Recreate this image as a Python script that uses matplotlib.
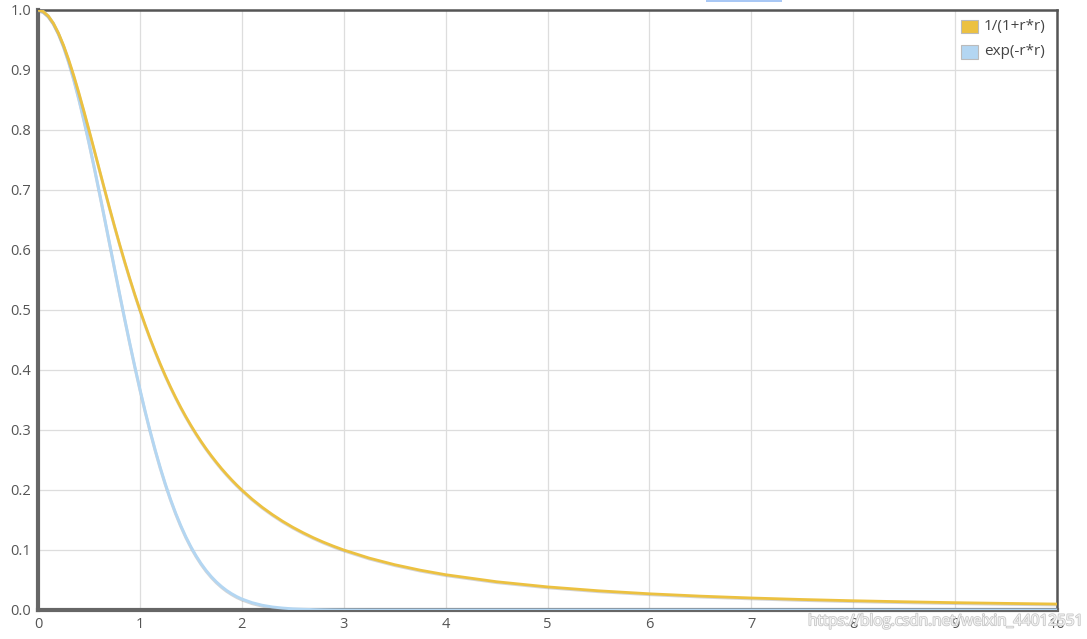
import numpy as np
import matplotlib.pyplot as plt
from matplotlib.patches import Rectangle
import matplotlib.patheffects as pe

plt.rcParams['font.family'] = ['Open Sans', 'DejaVu Sans']

# values
r = [0, 0.05, 0.1, 0.15, 0.2, 0.25, 0.3, 0.35, 0.4, 0.45, 0.5, 0.55, 0.6, 0.65,
     0.7, 0.75, 0.8, 0.85, 0.9, 0.95, 1.0, 1.05, 1.1, 1.15, 1.2, 1.25, 1.3, 1.35,
     1.4, 1.45, 1.5, 1.55, 1.6, 1.65, 1.7, 1.75, 1.8, 1.85, 1.9, 1.95, 2.0,
     2.1, 2.2, 2.3, 2.4, 2.5, 2.6, 2.7, 2.8, 2.9, 3.0, 3.25, 3.5, 3.75, 4.0,
     4.5, 5.0, 5.5, 6.0, 6.5, 7.0, 7.5, 8.0, 8.5, 9.0, 9.5, 10.0]
y_inv = [1.0, 0.9975, 0.9901, 0.978, 0.9615, 0.9412, 0.9174, 0.8909, 0.8621, 0.8316,
         0.80, 0.7678, 0.7353, 0.703, 0.6711, 0.64, 0.6098, 0.5806, 0.5525, 0.5256,
         0.50, 0.4756, 0.4525, 0.4306, 0.4098, 0.3902, 0.3717, 0.3543, 0.3378, 0.3223,
         0.3077, 0.2939, 0.2809, 0.2686, 0.2571, 0.2462, 0.2358, 0.2261, 0.2169, 0.2082,
         0.20, 0.1848, 0.1712, 0.159, 0.1479, 0.1379, 0.1289, 0.1206, 0.1131, 0.1063,
         0.10, 0.0865, 0.0755, 0.0664, 0.0588, 0.0471, 0.0385, 0.032, 0.027, 0.0231,
         0.020, 0.0175, 0.0154, 0.0137, 0.0122, 0.011, 0.0099]
y_exp = [1.0, 0.9975, 0.99, 0.9778, 0.9608, 0.9394, 0.9139, 0.8847, 0.8521, 0.8167,
         0.7788, 0.739, 0.6977, 0.6554, 0.6126, 0.5698, 0.5273, 0.4855, 0.4449, 0.4056,
         0.3679, 0.3321, 0.2982, 0.2665, 0.2369, 0.2096, 0.1845, 0.1616, 0.1409, 0.1221,
         0.1054, 0.0905, 0.0773, 0.0657, 0.0556, 0.0468, 0.0392, 0.0326, 0.0271, 0.0223,
         0.0183, 0.0122, 0.0079, 0.005, 0.0032, 0.0019, 0.0012, 0.0007, 0.0004, 0.0002,
         0.0001, 0, 0, 0, 0, 0, 0, 0, 0, 0, 0, 0, 0, 0, 0, 0, 0]

labels = ['1/(1+r*r)', 'exp(-r*r)']
colors = ['#ecc140', '#b3d6f2']

fig = plt.figure(figsize=(10.87, 6.39), dpi=100)
ax = fig.add_axes([0.035, 0.0454, 0.9375, 0.939])

shadow = [pe.SimpleLineShadow(offset=(0, -0.7), shadow_color='#888888', alpha=0.35), pe.Normal()]
ax.plot(r, y_exp, color=colors[1], lw=2.1, path_effects=shadow, zorder=3, solid_joinstyle='round')
ax.plot(r, y_inv, color=colors[0], lw=2.0, path_effects=shadow, zorder=4, solid_joinstyle='round')

ax.set_xlim(0, 10)
ax.set_ylim(0, 1)
ax.set_xticks(range(0, 11))
ax.set_yticks(np.arange(0, 1.01, 0.1))
ax.set_yticklabels(['%.1f' % v for v in np.arange(0, 1.01, 0.1)])
ax.grid(True, color='#dddddd', lw=0.9)
ax.set_axisbelow(True)
ax.tick_params(length=0, labelsize=10.5, colors='#555555', pad=5)

for s in ['top', 'right']:
    ax.spines[s].set_color('#555555')
    ax.spines[s].set_linewidth(1.8)
for s in ['left', 'bottom']:
    ax.spines[s].set_color('#666666')
    ax.spines[s].set_linewidth(3)

# legend
for i, (lab, c) in enumerate(zip(labels, colors)):
    yy = 0.972 - i * 0.042
    ax.add_patch(Rectangle((0.906, yy - 0.011), 0.0167, 0.022, transform=ax.transAxes,
                           facecolor=c, edgecolor='#bbbbbb', lw=0.8, zorder=5))
    ax.text(0.928, yy, lab, transform=ax.transAxes, va='center', ha='left',
            fontsize=11, color='#444444', zorder=5)

# clipped bar at the top edge
fig.patches.append(Rectangle((706 / 1087, 1 - 2 / 639), 76 / 1087, 2 / 639,
                             transform=fig.transFigure, facecolor='#a9c8f5', edgecolor='none'))

fig.text(808 / 1087, 0.027, 'https://blog.csdn.net/weixin_44012551', ha='left', va='center',
         fontsize=11, color='#f4f4f4',
         path_effects=[pe.withStroke(linewidth=1.2, foreground='#c8c8c8')])

fig.savefig('out.png', dpi=100)
